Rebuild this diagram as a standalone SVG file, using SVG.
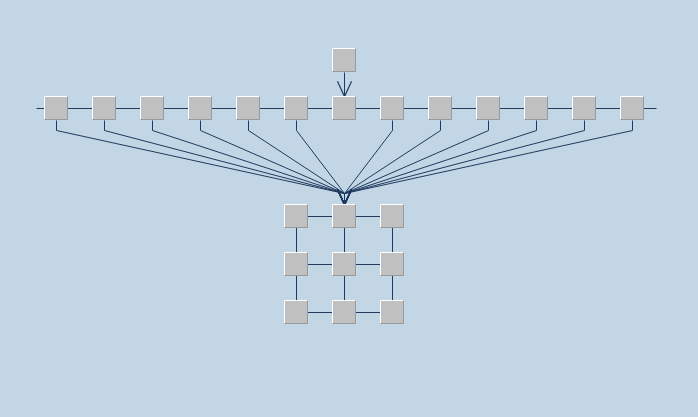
<svg xmlns="http://www.w3.org/2000/svg" xmlns:xlink="http://www.w3.org/1999/xlink" width="698" height="417" viewBox="0 0 698 417">
<style>
.e{fill:none;stroke:#1e3a5c;stroke-width:1}
.a{marker-end:url(#arr)}
.bf{fill:#c0c0c0}
.hl{fill:none;stroke:#ffffff;stroke-width:1}
.sh{fill:none;stroke:#9a9a9a;stroke-width:1}
</style>
<defs>
<marker id="arr" markerUnits="userSpaceOnUse" markerWidth="20" markerHeight="20" viewBox="-15 -8 17 16" refX="0" refY="0" orient="auto">
<path d="M-13,-6 L0,0 L-13,6" fill="none" stroke="#1e3a5c" stroke-width="1"/>
</marker>
<g id="box">
<rect x="-12" y="-12" width="24" height="24" class="bf"/>
<path d="M-11.5,11.5 V-11.5 H11.5" class="hl"/>
<path d="M-11.5,11.5 H11.5 V-11.5" class="sh"/>
</g>
</defs>
<rect width="698" height="417" fill="#c3d6e6"/>
<g id="connectors" transform="translate(0.5,0.5)">
<path class="e" d="M36,108 H656"/>
<path class="e a" d="M344,72 V96"/>
<path class="e a" d="M56,120 V130 L344,193 V204"/>
<path class="e a" d="M104,120 V130 L344,193 V204"/>
<path class="e a" d="M152,120 V130 L344,193 V204"/>
<path class="e a" d="M200,120 V130 L344,193 V204"/>
<path class="e a" d="M248,120 V130 L344,193 V204"/>
<path class="e a" d="M296,120 V130 L344,193 V204"/>
<path class="e a" d="M392,120 V130 L344,193 V204"/>
<path class="e a" d="M440,120 V130 L344,193 V204"/>
<path class="e a" d="M488,120 V130 L344,193 V204"/>
<path class="e a" d="M536,120 V130 L344,193 V204"/>
<path class="e a" d="M584,120 V130 L344,193 V204"/>
<path class="e a" d="M632,120 V130 L344,193 V204"/>
<path class="e" d="M296,216 H392 M296,264 H392 M296,312 H392 M296,216 V312 M344,216 V312 M392,216 V312"/>
</g>
<g id="top"><use xlink:href="#box" x="344" y="60"/></g>
<g id="r1"><use xlink:href="#box" x="56" y="108"/></g>
<g id="r2"><use xlink:href="#box" x="104" y="108"/></g>
<g id="r3"><use xlink:href="#box" x="152" y="108"/></g>
<g id="r4"><use xlink:href="#box" x="200" y="108"/></g>
<g id="r5"><use xlink:href="#box" x="248" y="108"/></g>
<g id="r6"><use xlink:href="#box" x="296" y="108"/></g>
<g id="r7"><use xlink:href="#box" x="344" y="108"/></g>
<g id="r8"><use xlink:href="#box" x="392" y="108"/></g>
<g id="r9"><use xlink:href="#box" x="440" y="108"/></g>
<g id="r10"><use xlink:href="#box" x="488" y="108"/></g>
<g id="r11"><use xlink:href="#box" x="536" y="108"/></g>
<g id="r12"><use xlink:href="#box" x="584" y="108"/></g>
<g id="r13"><use xlink:href="#box" x="632" y="108"/></g>
<g id="g11"><use xlink:href="#box" x="296" y="216"/></g>
<g id="g12"><use xlink:href="#box" x="344" y="216"/></g>
<g id="g13"><use xlink:href="#box" x="392" y="216"/></g>
<g id="g21"><use xlink:href="#box" x="296" y="264"/></g>
<g id="g22"><use xlink:href="#box" x="344" y="264"/></g>
<g id="g23"><use xlink:href="#box" x="392" y="264"/></g>
<g id="g31"><use xlink:href="#box" x="296" y="312"/></g>
<g id="g32"><use xlink:href="#box" x="344" y="312"/></g>
<g id="g33"><use xlink:href="#box" x="392" y="312"/></g>
</svg>
